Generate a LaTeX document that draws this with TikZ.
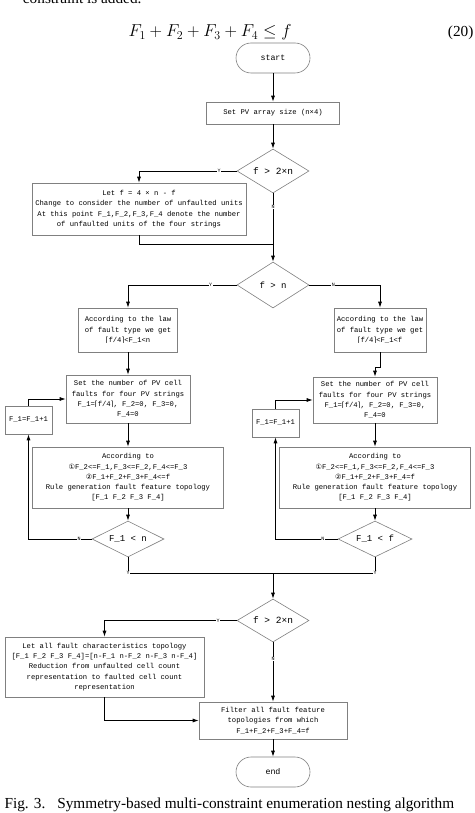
\documentclass[tikz,border=0pt]{standalone}
\usepackage{fontspec}
\setmainfont{Liberation Serif}
\setmonofont{Liberation Mono}
\newfontfamily\pvsym{DejaVu Sans}
\usetikzlibrary{shapes.geometric,arrows.meta}
\begin{document}
\begin{tikzpicture}[x=1pt,y=-1pt,
 box/.style={draw=gray,line width=0.6pt,rectangle,align=center,inner sep=1pt,font=\ttfamily\fontsize{7.2}{10.3}\selectfont},
 decide/.style={draw=gray,line width=0.6pt,diamond,aspect=1.6,inner sep=0pt,font=\ttfamily\fontsize{9}{10}\selectfont},
 term/.style={draw=gray,line width=0.6pt,rounded corners=15pt,minimum width=74pt,minimum height=30pt,font=\ttfamily\fontsize{8.3}{10}\selectfont},
 flow/.style={line width=0.8pt,-{Latex[length=6pt,width=4pt]}},
 link/.style={line width=0.8pt},
 yn/.style={fill=white,inner sep=0.6pt,font=\ttfamily\fontsize{5}{5}\selectfont}]
 \fill[white] (0,0) rectangle (474,813);
 \useasboundingbox (0,0) rectangle (474,813);
 \node[anchor=base east] (prev) at (145,4) {\fontsize{15.3}{16}\selectfont constraint is added.};
 \node[anchor=base] (eq) at (210,37) {\fontsize{18}{20}\selectfont$F_1+F_2+F_3+F_4\leq f$};
 \node[anchor=base east] (eqno) at (477,37) {\fontsize{15.3}{16}\selectfont(20)};
 \node[term] (start) at (273,58) {start};
 \node[box,minimum width=133pt,minimum height=22pt] (size) at (273,113) {Set PV array size (n×4)};
 \node[decide,minimum width=72pt,minimum height=44pt,font=\ttfamily\fontsize{9.5}{10}\selectfont] (big) at (273,171) {f > 2×n};
 \node[box,minimum width=214pt,minimum height=52pt] (swap) at (139,209) {Let f = 4 × n - f\\Change to consider the number of unfaulted units\\At this point F\_1,F\_2,F\_3,F\_4 denote the number\\of unfaulted units of the four strings};
 \coordinate (join) at (273,244);
 \node[decide,minimum width=72pt,minimum height=46pt] (half) at (273,285) {f > n};
 \node[box,minimum width=99pt,minimum height=44pt] (lawl) at (128,330) {According to the law\\of fault type we get\\{\pvsym⌈}f/4{\pvsym⌉}<F\_1<n};
 \node[box,minimum width=92pt,minimum height=44pt] (lawr) at (380,330) {According to the law\\of fault type we get\\{\pvsym⌈}f/4{\pvsym⌉}<F\_1<f};
 \node[box,minimum width=124pt,minimum height=48pt] (setl) at (128,399) {Set the number of PV cell\\faults for four PV strings\\F\_1={\pvsym⌈}f/4{\pvsym⌉}, F\_2=0, F\_3=0,\\F\_4=0};
 \node[box,minimum width=124pt,minimum height=46pt] (setr) at (375,400) {Set the number of PV cell\\faults for four PV strings\\F\_1={\pvsym⌈}f/4{\pvsym⌉}, F\_2=0, F\_3=0,\\F\_4=0};
 \node[box,minimum width=47pt,minimum height=28pt] (incl) at (28.5,420) {F\_1=F\_1+1};
 \node[box,minimum width=47pt,minimum height=28pt] (incr) at (275.5,423) {F\_1=F\_1+1};
 \node[box,minimum width=191pt,minimum height=61pt] (rulel) at (128,477.5) {According to\\{\pvsym①}F\_2<=F\_1,F\_3<=F\_2,F\_4<=F\_3\\{\pvsym②}F\_1+F\_2+F\_3+F\_4<=f\\Rule generation fault feature topology\\{[}F\_1 F\_2 F\_3 F\_4{]}};
 \node[box,minimum width=191pt,minimum height=61pt] (ruler) at (375,477.5) {According to\\{\pvsym①}F\_2<=F\_1,F\_3<=F\_2,F\_4<=F\_3\\{\pvsym②}F\_1+F\_2+F\_3+F\_4=f\\Rule generation fault feature topology\\{[}F\_1 F\_2 F\_3 F\_4{]}};
 \node[decide,minimum width=72pt,minimum height=36pt] (loopl) at (128,539) {F\_1 < n};
 \node[decide,minimum width=74pt,minimum height=36pt] (loopr) at (375,539) {F\_1 < f};
 \coordinate (merge) at (273,573);
 \node[decide,minimum width=72pt,minimum height=43pt,font=\ttfamily\fontsize{9.5}{10}\selectfont] (back) at (273,620.5) {f > 2×n};
 \node[box,minimum width=199pt,minimum height=60pt] (undo) at (104.5,667) {Let all fault characteristics topology\\{[}F\_1 F\_2 F\_3 F\_4{]}=[n-F\_1 n-F\_2 n-F\_3 n-F\_4]\\Reduction from unfaulted cell count\\representation to faulted cell count\\representation};
 \node[box,minimum width=148pt,minimum height=37pt] (filter) at (273,720.5) {Filter all fault feature\\topologies from which\\F\_1+F\_2+F\_3+F\_4=f};
 \node[term] (stop) at (273,772) {end};
 \node[anchor=base west] (cap) at (1,808) {\fontsize{15.3}{16}\selectfont Fig. 3.\hspace{12pt}Symmetry-based multi-constraint enumeration nesting algorithm};
 \draw[flow] (start) -- (size);
 \draw[flow] (size) -- (big);
 \draw[flow] (big.west) -| node[yn,pos=0.09]{Y} (swap.north);
 \draw[link] (big.south) -- node[yn,pos=0.27]{N} (join);
 \draw[link] (swap.south) |- (join);
 \draw[flow] (join) -- (half);
 \draw[flow] (half.west) -| node[yn,pos=0.12]{Y} (lawl.north);
 \draw[flow] (half.east) -| node[yn,pos=0.17]{N} (lawr.north);
 \draw[flow] (lawl) -- (setl);
 \draw[flow] (lawr.south) -- ++(0,15) -| (setr.north);
 \draw[flow] (incl.north) |- (setl.west);
 \draw[flow] (incr.north) |- (setr.west);
 \draw[flow] (setl) -- (rulel);
 \draw[flow] (setr) -- (ruler);
 \draw[flow] (rulel) -- (loopl);
 \draw[flow] (ruler) -- (loopr);
 \draw[flow] (loopl.west) -| node[yn,pos=0.1]{N} (incl.south);
 \draw[flow] (loopr.west) -| node[yn,pos=0.12]{N} (incr.south);
 \draw[link] (loopl.south) |- node[yn,pos=0.5]{Y} (merge);
 \draw[link] (loopr.south) |- node[yn,pos=0.5]{Y} (merge);
 \draw[flow] (merge) -- (back);
 \draw[flow] (back.west) -| node[yn,pos=0.07]{Y} (undo.north);
 \draw[flow] (back.south) -- node[yn,pos=0.28]{N} (filter);
 \draw[flow] (undo.south) |- (filter.west);
 \draw[flow] (filter) -- (stop);
\end{tikzpicture}
\end{document}
